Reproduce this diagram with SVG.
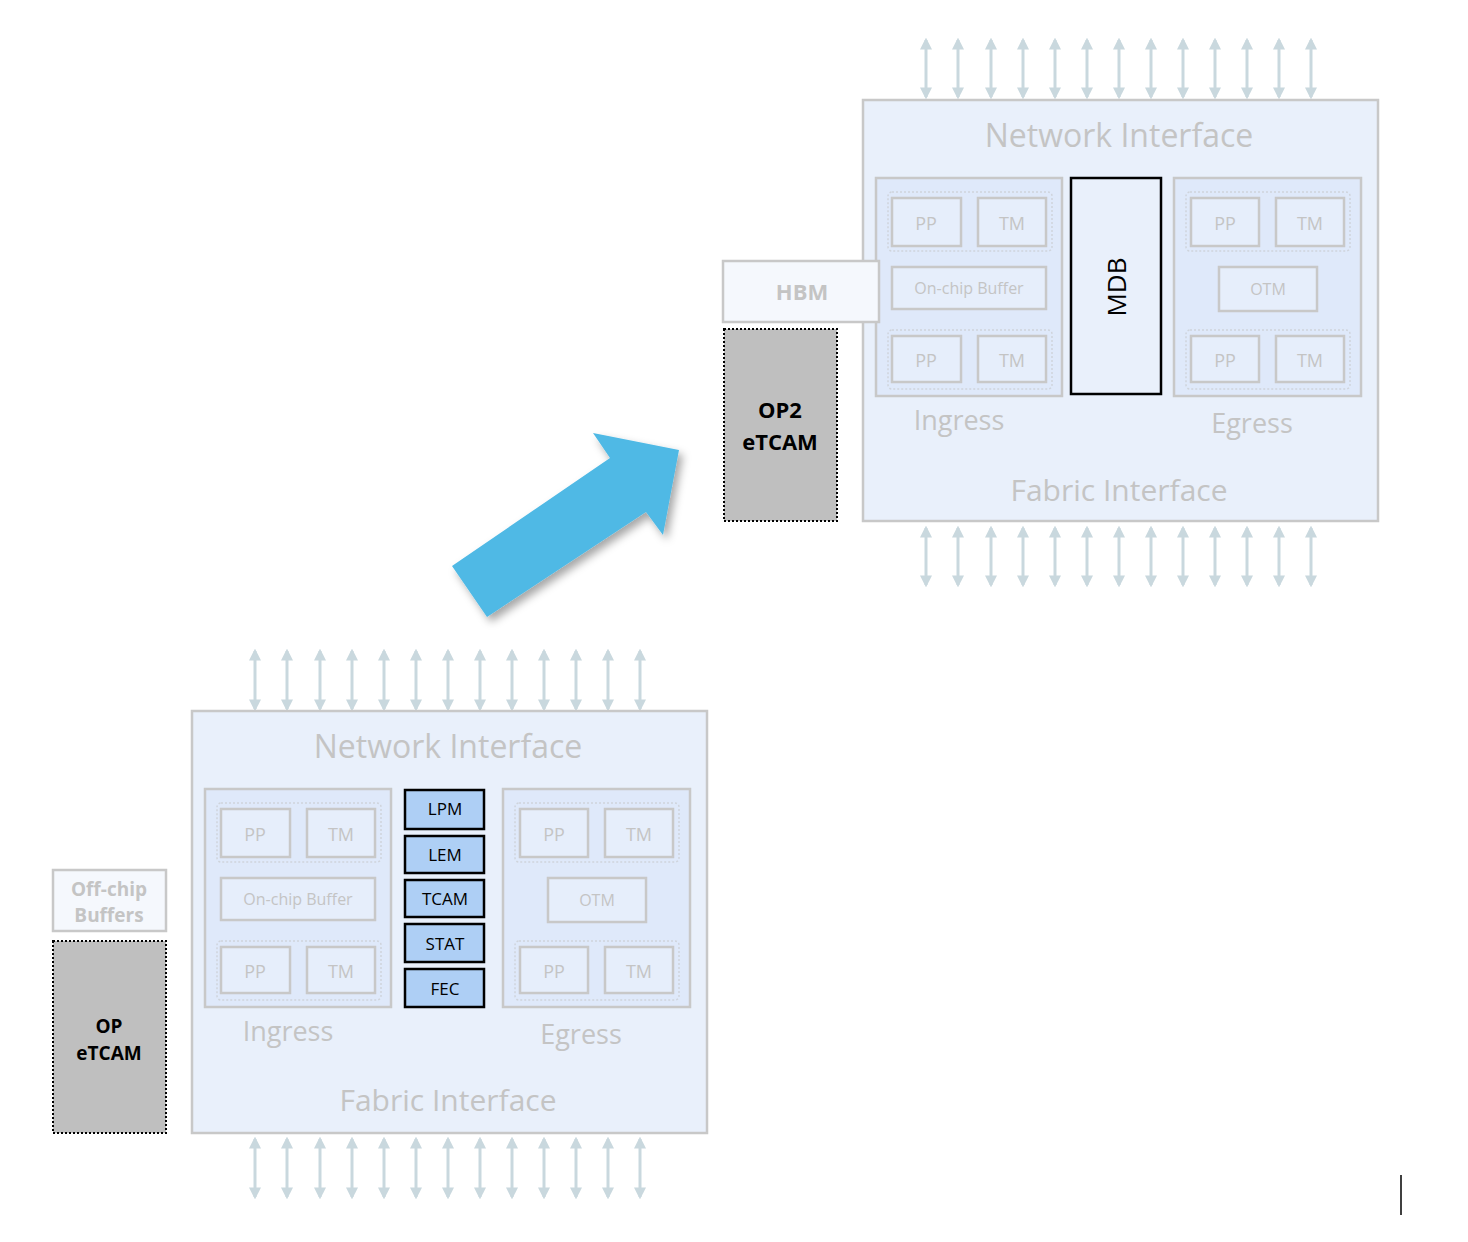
<svg xmlns="http://www.w3.org/2000/svg" width="1468" height="1242" viewBox="0 0 1468 1242">
<style>
.chip{fill:#e9f0fb;stroke:#c8c8c8;stroke-width:2.5}
.panel{fill:#dfe9fa;stroke:#c8c8c8;stroke-width:2.5}
.dot{fill:none;stroke:#cfd4dc;stroke-width:1.5;stroke-dasharray:2 2}
.blk{fill:#e6eefb;stroke:#c8c8c8;stroke-width:2.5}
.lt{font-family:"Open Sans","Liberation Sans",sans-serif;fill:#c4c4c4;text-anchor:middle}
.bt{font-family:"Open Sans","Liberation Sans",sans-serif;fill:#000;text-anchor:middle}
.mem{fill:#aecff5;stroke:#000;stroke-width:2.5}
.io{stroke:#c9d8de;stroke-width:3;marker-start:url(#ah);marker-end:url(#ah)}
</style>
<defs>
<marker id="ah" viewBox="0 0 10 10" refX="8" refY="5" markerWidth="4" markerHeight="4" orient="auto-start-reverse" markerUnits="strokeWidth"><path d="M0,0L10,5L0,10z" fill="#c9d8de"/></marker>
<filter id="sh" x="-20%" y="-20%" width="150%" height="150%"><feDropShadow dx="4" dy="5" stdDeviation="4" flood-color="#000" flood-opacity="0.35"/></filter>
<g id="ing">
<rect class="panel" x="0" y="0" width="186" height="218"/>
<rect class="dot" x="12" y="14" width="164" height="59" rx="4"/>
<rect class="blk" x="16" y="20" width="69" height="48"/><text class="lt" x="50" y="52" font-size="18">PP</text>
<rect class="blk" x="102" y="20" width="68" height="48"/><text class="lt" x="136" y="52" font-size="18">TM</text>
<rect class="blk" x="16" y="89" width="154" height="42"/><text class="lt" x="93" y="116" font-size="16">On-chip Buffer</text>
<rect class="dot" x="12" y="152" width="164" height="59" rx="4"/>
<rect class="blk" x="16" y="158" width="69" height="46"/><text class="lt" x="50" y="189" font-size="18">PP</text>
<rect class="blk" x="102" y="158" width="68" height="46"/><text class="lt" x="136" y="189" font-size="18">TM</text>
</g>
<g id="egr">
<rect class="panel" x="0" y="0" width="187" height="218"/>
<rect class="dot" x="12" y="14" width="164" height="59" rx="4"/>
<rect class="blk" x="17" y="20" width="68" height="48"/><text class="lt" x="51" y="52" font-size="18">PP</text>
<rect class="blk" x="102" y="20" width="68" height="48"/><text class="lt" x="136" y="52" font-size="18">TM</text>
<rect class="blk" x="45" y="89" width="98" height="44"/><text class="lt" x="94" y="117" font-size="16">OTM</text>
<rect class="dot" x="12" y="152" width="164" height="59" rx="4"/>
<rect class="blk" x="17" y="158" width="68" height="46"/><text class="lt" x="51" y="189" font-size="18">PP</text>
<rect class="blk" x="102" y="158" width="68" height="46"/><text class="lt" x="136" y="189" font-size="18">TM</text>
</g>
</defs>
<rect width="1468" height="1242" fill="#fff"/>

<g id="connectors">
<g id="io-bottom-top">
<line class="io" x1="255" y1="651" x2="255" y2="709"/><line class="io" x1="287" y1="651" x2="287" y2="709"/><line class="io" x1="320" y1="651" x2="320" y2="709"/><line class="io" x1="352" y1="651" x2="352" y2="709"/><line class="io" x1="384" y1="651" x2="384" y2="709"/><line class="io" x1="416" y1="651" x2="416" y2="709"/><line class="io" x1="448" y1="651" x2="448" y2="709"/><line class="io" x1="480" y1="651" x2="480" y2="709"/><line class="io" x1="512" y1="651" x2="512" y2="709"/><line class="io" x1="544" y1="651" x2="544" y2="709"/><line class="io" x1="576" y1="651" x2="576" y2="709"/><line class="io" x1="608" y1="651" x2="608" y2="709"/><line class="io" x1="640" y1="651" x2="640" y2="709"/>
</g>
<g id="io-bottom-bottom">
<line class="io" x1="255" y1="1139" x2="255" y2="1197"/><line class="io" x1="287" y1="1139" x2="287" y2="1197"/><line class="io" x1="320" y1="1139" x2="320" y2="1197"/><line class="io" x1="352" y1="1139" x2="352" y2="1197"/><line class="io" x1="384" y1="1139" x2="384" y2="1197"/><line class="io" x1="416" y1="1139" x2="416" y2="1197"/><line class="io" x1="448" y1="1139" x2="448" y2="1197"/><line class="io" x1="480" y1="1139" x2="480" y2="1197"/><line class="io" x1="512" y1="1139" x2="512" y2="1197"/><line class="io" x1="544" y1="1139" x2="544" y2="1197"/><line class="io" x1="576" y1="1139" x2="576" y2="1197"/><line class="io" x1="608" y1="1139" x2="608" y2="1197"/><line class="io" x1="640" y1="1139" x2="640" y2="1197"/>
</g>
<g id="io-top-top">
<line class="io" x1="926" y1="40" x2="926" y2="97"/><line class="io" x1="958" y1="40" x2="958" y2="97"/><line class="io" x1="991" y1="40" x2="991" y2="97"/><line class="io" x1="1023" y1="40" x2="1023" y2="97"/><line class="io" x1="1055" y1="40" x2="1055" y2="97"/><line class="io" x1="1087" y1="40" x2="1087" y2="97"/><line class="io" x1="1119" y1="40" x2="1119" y2="97"/><line class="io" x1="1151" y1="40" x2="1151" y2="97"/><line class="io" x1="1183" y1="40" x2="1183" y2="97"/><line class="io" x1="1215" y1="40" x2="1215" y2="97"/><line class="io" x1="1247" y1="40" x2="1247" y2="97"/><line class="io" x1="1279" y1="40" x2="1279" y2="97"/><line class="io" x1="1311" y1="40" x2="1311" y2="97"/>
</g>
<g id="io-top-bottom">
<line class="io" x1="926" y1="528" x2="926" y2="585"/><line class="io" x1="958" y1="528" x2="958" y2="585"/><line class="io" x1="991" y1="528" x2="991" y2="585"/><line class="io" x1="1023" y1="528" x2="1023" y2="585"/><line class="io" x1="1055" y1="528" x2="1055" y2="585"/><line class="io" x1="1087" y1="528" x2="1087" y2="585"/><line class="io" x1="1119" y1="528" x2="1119" y2="585"/><line class="io" x1="1151" y1="528" x2="1151" y2="585"/><line class="io" x1="1183" y1="528" x2="1183" y2="585"/><line class="io" x1="1215" y1="528" x2="1215" y2="585"/><line class="io" x1="1247" y1="528" x2="1247" y2="585"/><line class="io" x1="1279" y1="528" x2="1279" y2="585"/><line class="io" x1="1311" y1="528" x2="1311" y2="585"/>
</g>
<polygon id="big-arrow" points="452,566 610,458 593,433 679,450 663,535 646,512 487,617" fill="#4fb9e5" filter="url(#sh)"/>
</g>

<g id="chip-old">
<rect class="chip" x="192" y="711" width="515" height="422"/>
<text class="lt" x="448" y="758" font-size="32">Network Interface</text>
<text class="lt" x="448" y="1111" font-size="30">Fabric Interface</text>
<use href="#ing" x="205" y="789"/>
<use href="#egr" x="503" y="789"/>
<text class="lt" x="288" y="1041" font-size="27">Ingress</text>
<text class="lt" x="581" y="1044" font-size="27">Egress</text>
</g>
<g id="lpm"><rect class="mem" x="405" y="790" width="79" height="39"/><text class="bt" x="445" y="815" font-size="17">LPM</text></g>
<g id="lem"><rect class="mem" x="405" y="836" width="79" height="37"/><text class="bt" x="445" y="861" font-size="17">LEM</text></g>
<g id="tcam"><rect class="mem" x="405" y="880" width="79" height="37"/><text class="bt" x="445" y="905" font-size="17">TCAM</text></g>
<g id="stat"><rect class="mem" x="405" y="924" width="79" height="38"/><text class="bt" x="445" y="950" font-size="17">STAT</text></g>
<g id="fec"><rect class="mem" x="405" y="969" width="79" height="38"/><text class="bt" x="445" y="995" font-size="17">FEC</text></g>
<g id="offchip"><rect x="53" y="870" width="113" height="61" fill="#f5f8fd" stroke="#c8c8c8" stroke-width="2.5"/><text class="lt" x="109" y="896" font-size="19" font-weight="bold">Off-chip</text><text class="lt" x="109" y="922" font-size="19" font-weight="bold">Buffers</text></g>
<g id="op-etcam"><rect x="53" y="941" width="113" height="192" fill="#bfbfbf" stroke="#000" stroke-width="2" stroke-dasharray="2 2"/><text class="bt" x="109" y="1033" font-size="19" font-weight="bold">OP</text><text class="bt" x="109" y="1060" font-size="19" font-weight="bold">eTCAM</text></g>

<g id="chip-new">
<rect class="chip" x="863" y="100" width="515" height="421"/>
<text class="lt" x="1119" y="147" font-size="32">Network Interface</text>
<text class="lt" x="1119" y="501" font-size="30">Fabric Interface</text>
<use href="#ing" x="876" y="178"/>
<use href="#egr" x="1174" y="178"/>
<text class="lt" x="959" y="430" font-size="27">Ingress</text>
<text class="lt" x="1252" y="433" font-size="27">Egress</text>
</g>
<g id="mdb"><rect x="1071" y="178" width="90" height="216" fill="#e9f0fb" stroke="#000" stroke-width="2.5"/><text class="bt" transform="translate(1126,287) rotate(-90)" font-size="26">MDB</text></g>
<g id="hbm"><rect x="723" y="261" width="156" height="61" fill="#f5f8fd" stroke="#c8c8c8" stroke-width="2.5"/><text class="lt" x="802" y="300" font-size="22" font-weight="bold">HBM</text></g>
<g id="op2-etcam"><rect x="724" y="329" width="113" height="192" fill="#bfbfbf" stroke="#000" stroke-width="2" stroke-dasharray="2 2"/><text class="bt" x="780" y="418" font-size="22" font-weight="bold">OP2</text><text class="bt" x="780" y="450" font-size="22" font-weight="bold">eTCAM</text></g>
<line x1="1401" y1="1175" x2="1401" y2="1215" stroke="#000" stroke-width="1.5"/>
</svg>
